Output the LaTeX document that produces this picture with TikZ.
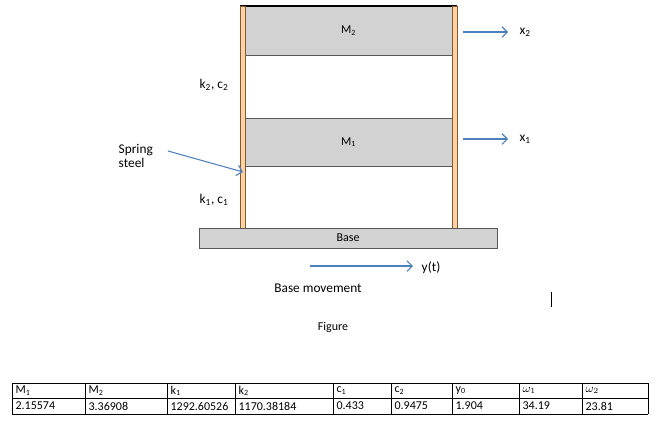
\documentclass[tikz,border=0pt]{standalone}
\usepackage{fontspec}
\setmainfont{Carlito}
\usetikzlibrary{arrows.meta}
\definecolor{arr}{RGB}{79,129,189}
\begin{document}
\begin{tikzpicture}[x=0.75pt,y=-0.75pt,font=\fontsize{9}{10}\selectfont,
  mass/.style={draw=gray!70!black,fill=gray!35,line width=0.6pt},
  post/.style={draw=brown!70!black,fill=orange!35,line width=0.4pt},
  blu/.style={draw=arr,line width=0.8pt,-{Straight Barb[length=4pt]}},
  lab/.style={font=\fontsize{10}{11}\selectfont},
  cell/.style={draw=black,line width=0.5pt}]
\useasboundingbox (0,0) rectangle (657,436);
\fill[white] (0,0) rectangle (657,436);
% masses
\draw[mass] (245,6) rectangle node (m2) {M\textsubscript{2}} (452,55);
\draw[mass] (245,118) rectangle node (m1) {M\textsubscript{1}} (452,166);
\draw[black,line width=0.8pt] (240,6) -- (457,6);
% posts
\draw[post] (240,6) rectangle (245,228);
\draw[post] (452,6) rectangle (457,228);
\coordinate (sp) at (243,172);
% base
\draw[mass] (199,228) rectangle node (base) {Base} (497,248);
% arrows
\coordinate (a2s) at (463,32); \coordinate (a2e) at (508,32);
\coordinate (a1s) at (463,139); \coordinate (a1e) at (508,139);
\coordinate (ys) at (310,266); \coordinate (ye) at (413,266);
\draw[blu] (a2s) -- (a2e);
\draw[blu] (a1s) -- (a1e);
\draw[blu] (ys) -- (ye);
\node[anchor=west,lab] (x2) at (515,32) {x\textsubscript{2}};
\node[anchor=west,lab] (x1) at (515,139) {x\textsubscript{1}};
\node[anchor=west,lab] (yt) at (417,268) {y(t)};
\node[lab] (bm) at (318,288) {Base movement};
\node[align=left,anchor=west,lab] (ss) at (114,156) {Spring\\steel};
\coordinate (ssa) at (168,151);
\draw[blu] (ssa) -- (sp);
\node[lab] (k2) at (214,85) {k\textsubscript{2}, c\textsubscript{2}};
\node[lab] (k1) at (214,200) {k\textsubscript{1}, c\textsubscript{1}};
\node (fig) at (333,327) {Figure};
\draw[black,line width=0.6pt] (551,292) -- (551,307);
% table
\foreach \y in {383,398,414} \draw[cell] (12,\y) -- (648,\y);
\foreach \x in {12,85,167,235,333,391,452,519,582,648} \draw[cell] (\x,383) -- (\x,414);
\foreach \x/\t [count=\i] in {14/M\textsubscript{1},87/M\textsubscript{2},169/k\textsubscript{1},237/k\textsubscript{2},335/c\textsubscript{1},393/c\textsubscript{2},454/y\textsubscript{0},521/$\omega_1$,584/$\omega_2$}
  \node[anchor=west,inner sep=1pt] (h\i) at (\x,390.5) {\t};
\foreach \x/\t [count=\i] in {14/2.15574,87/3.36908,169/1292.60526,237/1170.38184,335/0.433,393/0.9475,454/1.904,521/34.19,584/23.81}
  \node[anchor=west,inner sep=1pt] (v\i) at (\x,406) {\t};
\end{tikzpicture}
\end{document}
